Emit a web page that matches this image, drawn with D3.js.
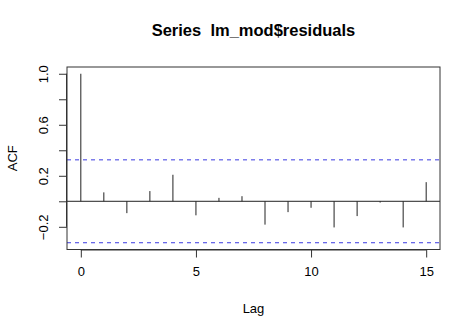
<!DOCTYPE html>
<html>
<head>
<meta charset="utf-8">
<script src="https://cdn.jsdelivr.net/npm/d3@7"></script>
<style>
  html, body { margin: 0; padding: 0; background: #fff; }
  svg { display: block; }
  text { font-family: "Liberation Sans", Arial, Helvetica, sans-serif; fill: #000; }
</style>
</head>
<body>
<svg id="chart" width="474" height="333"></svg>
<script>
// Autocorrelation of the model residuals, lags 0..15
const lags = [0, 1, 2, 3, 4, 5, 6, 7, 8, 9, 10, 11, 12, 13, 14, 15];
const acfValues = [1.0, 0.07, -0.093, 0.08, 0.208, -0.11, 0.027, 0.04, -0.183, -0.085, -0.051, -0.205, -0.116, -0.01, -0.205, 0.15];
const confBound = 0.325;
const xTicks = [0, 5, 10, 15];
const yTicks = [-0.2, 0.0, 0.2, 0.4, 0.6, 0.8, 1.0];
const yLabelled = [-0.2, 0.2, 0.6, 1.0];

const svg = d3.select("#chart");
const plot = { left: 67, right: 440, top: 67, bottom: 249.5 };

const x = d3.scaleLinear().domain([-0.6, 15.6]).range([plot.left, plot.right]);
const y = d3.scaleLinear().domain([-0.378, 1.053]).range([plot.bottom, plot.top]);

const ink = "#222";

// zero reference line
svg.append("line")
  .attr("x1", plot.left).attr("x2", plot.right)
  .attr("y1", y(0)).attr("y2", y(0))
  .attr("stroke", ink).attr("stroke-width", 1);

// confidence bounds
[confBound, -confBound].forEach(v => {
  svg.append("line")
    .attr("x1", plot.left).attr("x2", plot.right)
    .attr("y1", y(v)).attr("y2", y(v))
    .attr("stroke", "#3a3ae0").attr("stroke-width", 1)
    .attr("stroke-dasharray", "4,4");
});

// ACF spikes
svg.append("g").selectAll("line")
  .data(lags)
  .join("line")
  .attr("x1", d => x(d)).attr("x2", d => x(d))
  .attr("y1", y(0)).attr("y2", (d, i) => y(acfValues[i]))
  .attr("stroke", ink).attr("stroke-width", 1);

// plot frame
svg.append("rect")
  .attr("x", plot.left).attr("y", plot.top)
  .attr("width", plot.right - plot.left).attr("height", plot.bottom - plot.top)
  .attr("fill", "none").attr("stroke", "#333").attr("stroke-width", 1);

// x axis
const xAxis = d3.axisBottom(x).tickValues(xTicks).tickSize(8).tickPadding(9).tickFormat(d3.format("d"));
const gx = svg.append("g").attr("transform", `translate(0,${plot.bottom})`).call(xAxis);
gx.select(".domain").attr("d", `M${x(0)},0.5H${x(15)}`).attr("stroke", "#333");
gx.selectAll(".tick line").attr("stroke", "#333");
gx.selectAll("text").attr("font-size", 13).attr("fill", "#000");

// y axis with rotated labels
const yAxis = d3.axisLeft(y).tickValues(yTicks).tickSize(8)
  .tickFormat(d => yLabelled.some(v => Math.abs(v - d) < 1e-9) ? d3.format(".1f")(d) : "");
const gy = svg.append("g").attr("transform", `translate(${plot.left},0)`).call(yAxis);
gy.select(".domain").attr("d", `M-0.5,${y(-0.2)}V${y(1.0)}`).attr("stroke", "#333");
gy.selectAll(".tick line").attr("stroke", "#333");
gy.selectAll("text")
  .attr("font-size", 13).attr("fill", "#000")
  .attr("x", null).attr("dy", null)
  .attr("text-anchor", "middle")
  .attr("transform", "translate(-24,0) rotate(-90)")
  .attr("dominant-baseline", "central");

// titles
svg.append("text")
  .attr("x", (plot.left + plot.right) / 2).attr("y", 36)
  .attr("text-anchor", "middle")
  .attr("font-size", 16.5).attr("font-weight", "bold")
  .style("white-space", "pre")
  .text("Series  lm_mod$residuals");

svg.append("text")
  .attr("x", (plot.left + plot.right) / 2).attr("y", 313)
  .attr("text-anchor", "middle")
  .attr("font-size", 13)
  .text("Lag");

svg.append("text")
  .attr("transform", `translate(17,${(plot.top + plot.bottom) / 2}) rotate(-90)`)
  .attr("text-anchor", "middle")
  .attr("font-size", 13)
  .text("ACF");
</script>
</body>
</html>
